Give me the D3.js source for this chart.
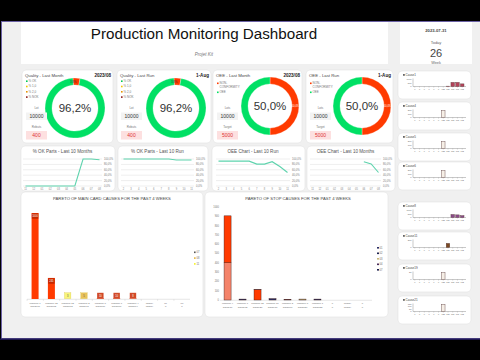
<!DOCTYPE html>
<html><head><meta charset="utf-8">
<script src="https://cdn.jsdelivr.net/npm/d3@7"></script>
<style>body{margin:0;background:#000;} svg{display:block;font-family:"Liberation Sans",Arial,sans-serif;}</style>
</head><body><svg id="c" width="480" height="360"></svg>
<script>
// ---------- DATA ----------
const dashTitle = "Production Monitoring Dashboard";
const dashSubtitle = "Projet Kit";
const dateText = "2023-07-31";
const todayLabel = "Today";
const weekNumber = "26";
const weekLabel = "Week";

const donutTitles = ["Quality - Last Month", "Quality - Last Run", "OEE - Last Month", "OEE - Last Run"];
const donutPeriods = ["2023/08", "1-Aug", "2023/08", "1-Aug"];
const donutGood = [96.2, 96.2, 50.0, 50.0];
const donutBad = [3.8, 3.8, 50.0, 50.0];
const qualityLegend = ["% OK", "% 1,0", "% 2,0", "% NOK"];
const oeeLegend = ["NON-", "CONFORMITY", "OEE"];
const lotLabels = ["Lot", "Lot", "Lots", "Lots"];
const lotValues = ["10000", "10000", "10000", "10000"];
const targetLabels = ["Rebuts", "Rebuts", "Target", "Target"];
const targetValues = ["400", "400", "5000", "5000"];

const lineTitles = ["% OK Parts - Last 10 Months", "% OK Parts - Last 10 Run", "OEE Chart - Last 10 Run", "OEE Chart - Last 10 Months"];
const monthLabels = ["11", "12", "01", "02", "03", "04", "05", "06", "07", "08"];
const runLabels = ["2", "3", "4", "5", "6", "7", "8", "9", "10", "11"];
const okPartsMonths = [0, 0, 0, 0, 0, 0, 0, 100, 100, 97];
const okPartsRuns = [100, 100, 100, 100, 100, 100, 100, 96.2, 96.2, 96.2];
const oeeRuns = [92, 92, 92, 92, 92, 81, 81, 90, 72, 50];
const oeeMonths = [null, null, null, null, null, null, null, 90, 82, 50];
const percentTicks = [0, 20, 40, 60, 80, 100];

const p1Title = "PARETO OF MAIN CARD CAUSES FOR THE PAST 4 WEEKS";
const p1Machines = ["Machine 7", "Machine 12", "Machine 13", "Machine 2", "Machine 8", "Machine 7", "Machine 4", "(blank)", "00", "00"];
const p1Causes = ["Cause18", "Cause03", "Cause03", "Cause17", "Cause16", "Cause07", "Cause04", "(blank)", "0", "0"];
const p1Values = [1000, 245, 3, 5, 10, 10, 8, 0, 0, 0];
const p1Legend = ["07", "08", "11"];

const p2Title = "PARETO OF STOP CAUSES FOR THE PAST 4 WEEKS";
const p2Machines = ["Machine 4", "Machine 7", "Machine 12", "Machine 10", "Machine 3", "Machine 8", "Machine 1", "0", "(blank)", "0"];
const p2Causes = ["Cause16", "Cause02", "Cause20", "Cause18", "Cause08", "Cause27", "Cause22", "0", "(blank)", "0"];
const p2SeriesNames = ["01", "02", "03", "04", "07"];
const p2S01 = [400, 0, 0, 0, 0, 0, 0, 0, 0, 0];
const p2S02 = [505, 0, 110, 0, 0, 0, 0, 0, 0, 0];
const p2S03 = [0, 10, 0, 15, 0, 0, 10, 0, 0, 0];
const p2S04 = [0, 0, 5, 0, 8, 0, 0, 0, 0, 0];
const p2S07 = [0, 0, 0, 0, 0, 10, 0, 0, 0, 0];
const p2Ticks = [0, 100, 200, 300, 400, 500, 600, 700, 800, 900, 1000];

const miniTitles = ["Cause1", "Cause4", "Cause5", "Cause6", "Cause8", "Cause11", "Cause19", "Cause21"];
const miniLabels = ["0", "0", "0", "0", "0", "0", "125", "126", "127", "131", "132"];
const miniMax = [1000, 200, 200, 200, 1000, 200, 20, 150];
const miniTicks = [[0, 500, 1000], [0, 100, 200], [0, 100, 200], [0, 100, 200], [0, 500, 1000], [0, 200], [0, 20], [0, 50, 100, 150]];
const miniA = [0, 0, 0, 0, 0, 0, 0, 50, 550, 550, 350];
const miniB = [0, 0, 0, 0, 0, 0, 180, 0, 0, 0, 0];
const miniC = [0, 0, 0, 0, 0, 0, 180, 0, 0, 0, 0];
const miniD = [0, 0, 0, 0, 0, 0, 180, 0, 0, 0, 0];
const miniE = [0, 0, 0, 0, 0, 0, 0, 0, 400, 350, 250];
const miniF = [0, 0, 0, 0, 0, 0, 0, 110, 0, 0, 0];
const miniG = [0, 0, 0, 0, 0, 0, 18, 0, 0, 0, 0];
const miniH = [0, 0, 0, 0, 0, 0, 140, 0, 0, 0, 0];

// ---------- STYLE ----------
const GREEN = "#00e064", RED = "#ff3a00", LINE = "#5ed3ad";
const svg = d3.select("#c");

function card(x, y, w, h, r) {
  return svg.append("rect").attr("x", x).attr("y", y).attr("width", w).attr("height", h)
    .attr("rx", r == null ? 4 : r).attr("fill", "#fff").attr("stroke", "#e2e2e2").attr("stroke-width", 0.6);
}
function txt(x, y, s, size, o) {
  o = o || {};
  const t = svg.append("text").attr("x", x).attr("y", y).attr("font-size", size).attr("fill", o.fill || "#333").text(s);
  if (o.anchor) t.attr("text-anchor", o.anchor);
  if (o.weight) t.attr("font-weight", o.weight);
  if (o.style) t.attr("font-style", o.style);
  return t;
}
const pct = v => v.toFixed(1).replace(".", ",") + "%";

// ---------- FRAME ----------
svg.append("rect").attr("width", 480).attr("height", 360).attr("fill", "#000");
svg.append("rect").attr("x", 1.5).attr("y", 21.5).attr("width", 480).attr("height", 317)
  .attr("fill", "#f0f0f0").attr("stroke", "#6c62a6").attr("stroke-width", 1);
svg.append("rect").attr("x", 0).attr("y", 338.5).attr("width", 480).attr("height", 1.5).attr("fill", "#1d1650");

// title boxes
card(21, 22, 367, 42, 0).attr("stroke", "none");
txt(204, 39, dashTitle, 15.2, { anchor: "middle", fill: "#111" });
txt(204, 56, dashSubtitle, 4.5, { anchor: "middle", fill: "#777", style: "italic" });
card(400, 22, 72, 42, 0).attr("stroke", "none");
txt(436, 32, dateText, 4.2, { anchor: "middle", weight: "bold", fill: "#444" });
txt(436, 44, todayLabel, 4, { anchor: "middle", fill: "#666" });
txt(436, 57, weekNumber, 11, { anchor: "middle", fill: "#444" });
txt(436, 64, weekLabel, 3.8, { anchor: "middle", fill: "#666" });

// ---------- DONUT CARDS ----------
const dCardX = [22, 117, 213, 306], dCardW = [91, 94, 89, 87];
const dCx = [75, 176, 270, 362], dCy = [108, 108, 106, 106], dR = [30, 30, 29, 29];
donutGood.forEach((good, i) => {
  const x = dCardX[i];
  card(x, 70, dCardW[i], 73);
  txt(x + 3, 76.5, donutTitles[i], 4.3, { fill: "#444" });
  txt(x + dCardW[i] - 2, 76.5, donutPeriods[i], 4.6, { anchor: "end", weight: "bold", fill: "#222" });
  const isQ = i < 2;
  const start = isQ ? -0.07 : 0;
  const pie = d3.pie().sort(null).startAngle(start).endAngle(start + 2 * Math.PI);
  const arcs = pie([donutBad[i], good]);
  const arc = d3.arc().innerRadius(dR[i] - 7).outerRadius(dR[i]);
  const g = svg.append("g").attr("transform", `translate(${dCx[i]},${dCy[i]})`);
  g.selectAll("path").data(arcs).join("path").attr("d", arc)
    .attr("fill", (d, j) => j === 0 ? RED : GREEN).attr("stroke", "#fff").attr("stroke-width", 0.3);
  const c = arc.centroid(arcs[0]);
  g.append("text").attr("x", isQ ? c[0] - 3 : c[0]).attr("y", isQ ? c[1] + 1 : c[1] + 1)
    .attr("font-size", 2.6).attr("text-anchor", "middle").attr("fill", isQ ? "#333" : "#fff")
    .text(pct(donutBad[i]));
  txt(dCx[i], dCy[i] + 4, pct(good), 11.5, { anchor: "middle", fill: "#333" });

  // legend
  const lx = x + 4;
  if (isQ) {
    const lc = ["#00c853", "#f2c600", "#e69500", "#8b1a1a"];
    qualityLegend.forEach((s, k) => {
      svg.append("rect").attr("x", lx).attr("y", 82 + k * 5.3 - 1.6).attr("width", 1.6).attr("height", 1.6).attr("fill", lc[k]);
      txt(lx + 2.5, 82 + k * 5.3, s, 3, { fill: "#777" });
    });
  } else {
    svg.append("rect").attr("x", lx).attr("y", 82.5).attr("width", 1.6).attr("height", 1.6).attr("fill", RED);
    txt(lx + 2.5, 84, oeeLegend[0], 3, { fill: "#777" });
    txt(lx + 2.5, 87.5, oeeLegend[1], 3, { fill: "#777" });
    svg.append("rect").attr("x", lx).attr("y", 91.5).attr("width", 1.6).attr("height", 1.6).attr("fill", GREEN);
    txt(lx + 2.5, 93, oeeLegend[2], 3, { fill: "#777" });
  }
  const bx = x + 4, bw = 21;
  txt(bx + bw / 2, 109, lotLabels[i], 3, { anchor: "middle", fill: "#777" });
  svg.append("rect").attr("x", bx).attr("y", 112.5).attr("width", bw).attr("height", 7.5).attr("fill", "#f3f3f3");
  txt(bx + bw / 2, 118.3, lotValues[i], 5, { anchor: "middle", fill: "#333" });
  txt(bx + bw / 2, 127.5, targetLabels[i], 3, { anchor: "middle", fill: "#777" });
  svg.append("rect").attr("x", bx).attr("y", 131).attr("width", bw).attr("height", 8.5).attr("fill", "#fde0e0");
  txt(bx + bw / 2, 137.3, targetValues[i], 5, { anchor: "middle", fill: "#d33" });
});

// ---------- LINE CHARTS ----------
const lCardX = [21, 118, 212, 307], lCardW = [94, 90, 93, 88];
const lGrid = [[23, 102], [121, 194], [216, 290], [310, 381]];
const lSeries = [okPartsMonths, okPartsRuns, oeeRuns, oeeMonths];
const lLabels = [monthLabels, runLabels, runLabels, monthLabels];
const yL = d3.scaleLinear().domain([0, 100]).range([186, 159]);
lSeries.forEach((vals, i) => {
  card(lCardX[i], 146, lCardW[i], 45);
  const [g0, g1] = lGrid[i];
  txt((g0 + g1) / 2, 152.5, lineTitles[i], 4.6, { anchor: "middle", fill: "#555" });
  percentTicks.forEach(t => {
    svg.append("line").attr("x1", g0).attr("x2", g1).attr("y1", yL(t)).attr("y2", yL(t))
      .attr("stroke", "#dcdcdc").attr("stroke-width", 0.5);
    txt(g1 + 2, yL(t) + 1, pct(t), 2.7, { fill: "#777" });
  });
  const x = d3.scalePoint().domain(lLabels[i].map((d, k) => k)).range([g0 + 2.5, g1 - 2.5]);
  lLabels[i].forEach((s, k) => txt(x(k), 190, s, 2.6, { anchor: "middle", fill: "#888" }));
  const line = d3.line().defined(d => d != null).x((d, k) => x(k)).y(d => yL(d));
  svg.append("path").attr("d", line(vals)).attr("fill", "none").attr("stroke", LINE).attr("stroke-width", 1.1);
});

// ---------- PARETO 1 ----------
card(21, 192, 182, 125);
txt(112, 199.5, p1Title, 4.2, { anchor: "middle", fill: "#444" });
const p1x = d3.scaleBand().domain(p1Values.map((d, k) => k)).range([27, 190]).paddingInner(0.57).paddingOuter(0.28);
const p1y = d3.scaleLinear().domain([0, 1000]).range([299, 213]);
const p1Fill = ["#ff3a00", "#ff3a00", "#f6f21e", "#e6b43a", "#dc532f", "#dc532f", "#dc532f", "#ccc", "#ccc", "#ccc"];
const p1Box = ["#c42800", "#c42800", "#f8f57a", "#e8c25a", "#d14a28", "#d14a28", "#d14a28", "#fff", "#fff", "#fff"];
svg.append("line").attr("x1", 27).attr("x2", 190).attr("y1", 299.25).attr("y2", 299.25).attr("stroke", "#ccc").attr("stroke-width", 0.5);
p1Values.forEach((v, k) => {
  const bx = p1x(k), bw = p1x.bandwidth(), top = p1y(v);
  svg.append("rect").attr("x", bx).attr("y", top).attr("width", bw).attr("height", 299 - top).attr("fill", p1Fill[k]);
  if (v > 0) {
    const by = Math.min(top, 299 - 6.5);
    svg.append("rect").attr("x", bx + 0.3).attr("y", by + 0.3).attr("width", bw - 0.6).attr("height", 5.5)
      .attr("fill", p1Box[k]).attr("stroke", k >= 2 && k <= 3 ? "#d8c040" : "none").attr("stroke-width", 0.3);
    txt(bx + bw / 2, by + 4, String(v), 2.6, { anchor: "middle", fill: k >= 2 && k <= 3 ? "#555" : "#fff" });
  }
  const cx = bx + bw / 2;
  svg.append("line").attr("x1", bx - 4.5).attr("x2", bx - 4.5).attr("y1", 299).attr("y2", 301).attr("stroke", "#ccc").attr("stroke-width", 0.4);
  txt(cx, 303.5, p1Machines[k], 2.4, { anchor: "middle", fill: "#666" });
  txt(cx, 307, p1Causes[k], 2.4, { anchor: "middle", fill: "#666" });
});
const p1LegC = ["#555", "#e6b43a", "#f6f21e"];
p1Legend.forEach((s, k) => {
  svg.append("rect").attr("x", 194).attr("y", 251.5 + k * 5.8).attr("width", 1.6).attr("height", 1.6).attr("fill", p1LegC[k]);
  txt(196.5, 253.2 + k * 5.8, s, 2.6, { fill: "#666" });
});

// ---------- PARETO 2 ----------
card(205, 192, 183, 125);
txt(298, 199.5, p2Title, 4.2, { anchor: "middle", fill: "#444" });
const p2x = d3.scaleBand().domain(p2Machines.map((d, k) => k)).range([220, 370]).paddingInner(0.53).paddingOuter(0.27);
const p2y = d3.scaleLinear().domain([0, 1000]).range([300, 207]);
p2Ticks.forEach(t => txt(219, p2y(t) + 0.9, String(t), 2.6, { anchor: "end", fill: "#777" }));
svg.append("line").attr("x1", 220).attr("x2", 372).attr("y1", 300.25).attr("y2", 300.25).attr("stroke", "#ccc").attr("stroke-width", 0.5);
const p2Rows = p2Machines.map((m, k) => ({ k, s01: p2S01[k], s02: p2S02[k], s03: p2S03[k], s04: p2S04[k], s07: p2S07[k] }));
const p2Keys = ["s01", "s02", "s03", "s04", "s07"];
const p2Col = { s01: "#f4836a", s02: "#ff3a00", s03: "#2b2f66", s04: "#6b2d2d", s07: "#c9b97a" };
const stack = d3.stack().keys(p2Keys)(p2Rows);
stack.forEach(layer => {
  layer.forEach(d => {
    if (d[1] - d[0] <= 0) return;
    svg.append("rect").attr("x", p2x(d.data.k)).attr("y", p2y(d[1])).attr("width", p2x.bandwidth())
      .attr("height", p2y(d[0]) - p2y(d[1])).attr("fill", p2Col[layer.key]).attr("stroke", "#3a1a1a").attr("stroke-width", 0.4);
  });
});
p2Machines.forEach((m, k) => {
  const cx = p2x(k) + p2x.bandwidth() / 2;
  txt(cx, 304, m, 2.4, { anchor: "middle", fill: "#666" });
  txt(cx, 307.5, p2Causes[k], 2.4, { anchor: "middle", fill: "#666" });
});
const p2LegC = ["#2b2f66", "#1d2250", "#c9b97a", "#4a2d5a", "#1d2250"];
p2SeriesNames.forEach((s, k) => {
  svg.append("rect").attr("x", 377).attr("y", 247 + k * 5.5).attr("width", 2).attr("height", 1.6).attr("fill", p2LegC[k]);
  txt(379.6, 248.7 + k * 5.5, s, 2.6, { fill: "#666" });
});

// ---------- MINI CHARTS ----------
const miniTops = [71, 102, 133, 162, 202, 232, 264, 296];
const miniSeries = [miniA, miniB, miniC, miniD, miniE, miniF, miniG, miniH];
const miniFill = ["#b4435a", "#f6efe6", "#f6efe6", "#f6efe6", "#8a4a8a", "#7a4a22", "#f6efe6", "#f6efe6"];
const mx = d3.scaleBand().domain(miniLabels.map((d, k) => k)).range([413, 464]).paddingInner(0.25);
miniSeries.forEach((vals, i) => {
  const t = miniTops[i];
  card(398, t, 73, 28);
  svg.append("rect").attr("x", 403).attr("y", t + 3).attr("width", 1.8).attr("height", 1.8).attr("fill", "#666");
  txt(405.6, t + 4.8, miniTitles[i], 3, { fill: "#444" });
  const my = d3.scaleLinear().domain([0, miniMax[i]]).range([t + 15.5, t + 8]);
  svg.append("line").attr("x1", 413).attr("x2", 413).attr("y1", t + 7.5).attr("y2", t + 15.5).attr("stroke", "#777").attr("stroke-width", 0.4);
  svg.append("line").attr("x1", 413).attr("x2", 466).attr("y1", t + 15.5).attr("y2", t + 15.5).attr("stroke", "#777").attr("stroke-width", 0.4);
  miniTicks[i].forEach(v => txt(411.5, my(v) + 0.8, String(v), 2.3, { anchor: "end", fill: "#666" }));
  miniLabels.forEach((s, k) => {
    const cx = mx(k) + mx.bandwidth() / 2;
    svg.append("line").attr("x1", cx).attr("x2", cx).attr("y1", t + 15.5).attr("y2", t + 16.5).attr("stroke", "#777").attr("stroke-width", 0.3);
    txt(cx, t + 19, s, 2, { anchor: "middle", fill: "#666" });
  });
  vals.forEach((v, k) => {
    if (v <= 0) return;
    svg.append("rect").attr("x", mx(k)).attr("y", my(v)).attr("width", mx.bandwidth()).attr("height", t + 15.5 - my(v))
      .attr("fill", miniFill[i]).attr("stroke", "#5a3a3a").attr("stroke-width", 0.4);
  });
});
</script></body></html>
